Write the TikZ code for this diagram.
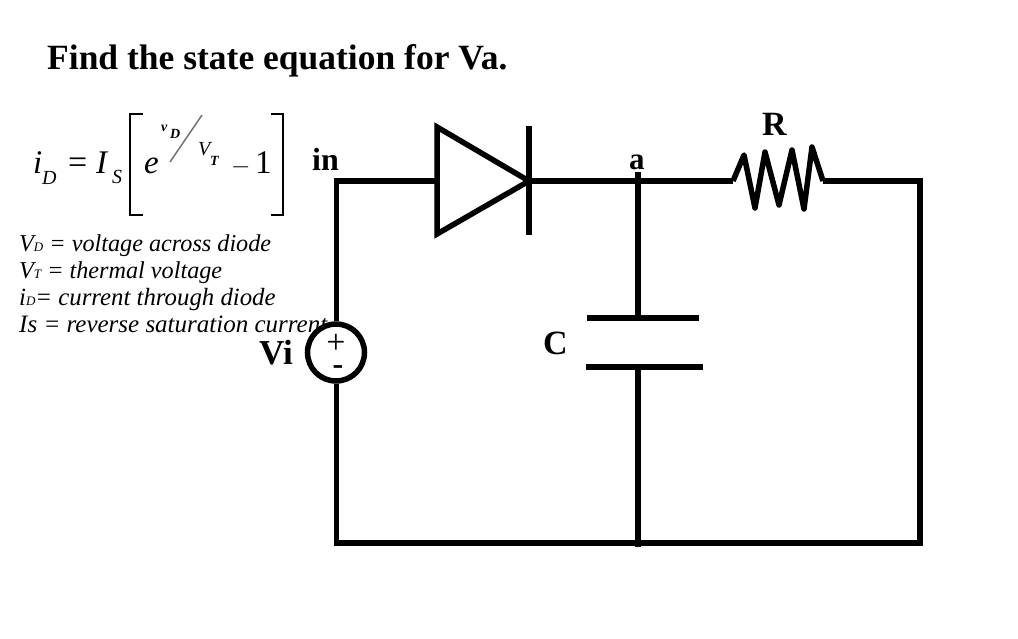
\documentclass[tikz,border=0pt]{standalone}
\usepackage{fontspec}
\setmainfont{Liberation Serif}
\tikzset{
  wire/.style={line width=5.5pt,line cap=butt,line join=miter,black},
  lbl/.style={inner sep=0pt,anchor=base west,text=black},
  bold/.style={lbl,font=\bfseries\fontsize{35.5}{35.5}\selectfont},
  note/.style={lbl,font=\itshape\fontsize{24.2}{24.2}\selectfont},
  eq/.style={lbl,font=\itshape\fontsize{33}{33}\selectfont},
  eqsub/.style={lbl,font=\itshape\fontsize{20}{20}\selectfont},
  tiny/.style={lbl,font=\bfseries\itshape\fontsize{14}{14}\selectfont},
  brk/.style={line width=1.6pt,black}
}
\begin{document}
\begin{tikzpicture}[x=1pt,y=-1pt]
\useasboundingbox (0,0) rectangle (1018,638);
\fill[white] (0,0) rectangle (1018,638);
% title
\node[bold] (title) at (47,69) {Find the state equation for Va.};
% equation
\node[eq] (iD) at (33,173) {i};
\node[eqsub] (iDs) at (42,184) {D};
\node[lbl,font=\fontsize{34}{34}\selectfont] (eqs) at (68,173) {=};
\node[eq] (Is) at (96,173) {I};
\node[eqsub] (Iss) at (112,183) {S};
\node[eq] (e) at (144,173) {e};
\node[tiny] (vd) at (161,131) {v};
\node[tiny] (vds) at (170,138) {D};
\node[lbl,font=\itshape\fontsize{20}{20}\selectfont] (vt) at (198,155) {V};
\node[tiny] (vts) at (210,165) {T};
\coordinate (sl1) at (170,162);
\coordinate (sl2) at (202,115);
\draw[line width=1.5pt,gray!90!black] (sl1) -- (sl2);
\node[lbl,font=\fontsize{30}{30}\selectfont] (m1) at (231,173) {$-$};
\node[lbl,font=\fontsize{33}{33}\selectfont] (one) at (255,173) {1};
\coordinate (bl1) at (143,114); \coordinate (bl2) at (130,114);
\coordinate (bl3) at (130,215); \coordinate (bl4) at (143,215);
\draw[brk] (bl1) -- (bl2) -- (bl3) -- (bl4);
\coordinate (br1) at (271,114); \coordinate (br2) at (283,114);
\coordinate (br3) at (283,215); \coordinate (br4) at (271,215);
\draw[brk] (br1) -- (br2) -- (br3) -- (br4);
% notes
\node[note] (n1) at (19,251) {V{\fontsize{13}{13}\selectfont D} = voltage across diode};
\node[note] (n2) at (19,278) {V{\fontsize{13}{13}\selectfont T} = thermal voltage};
\node[lbl,font=\itshape\fontsize{24.8}{24.8}\selectfont] (n3) at (19,305) {i{\fontsize{13}{13}\selectfont D}= current through diode};
\node[lbl,font=\itshape\fontsize{25}{25}\selectfont] (n4) at (19,332) {Is = reverse saturation current};
% circuit labels
\node[lbl,font=\bfseries\fontsize{32}{32}\selectfont] (in) at (312,170) {in};
\node[lbl,font=\bfseries\fontsize{31}{31}\selectfont] (a) at (629,169) {a};
\node[lbl,font=\bfseries\fontsize{34}{34}\selectfont] (R) at (762,135) {R};
\node[lbl,font=\bfseries\fontsize{34}{34}\selectfont] (C) at (543,354) {C};
\node[lbl,font=\bfseries\fontsize{35}{35}\selectfont] (Vi) at (259,364) {Vi};
% circuit nodes
\coordinate (TL) at (336.5,181);
\coordinate (TR) at (920,181);
\coordinate (BR) at (920,543);
\coordinate (BL) at (336.5,543);
\coordinate (Jtop) at (638,172);
\coordinate (Jbot) at (638,547);
\coordinate (DA) at (437,181);
\coordinate (DK) at (529,181);
\coordinate (DA1) at (437,127);
\coordinate (DA2) at (437,234);
\coordinate (DB1) at (529,126);
\coordinate (DB2) at (529,235);
\coordinate (C1) at (638,318);
\coordinate (C2) at (638,367);
\coordinate (C1l) at (587,318);
\coordinate (C1r) at (699,318);
\coordinate (C2l) at (586,367);
\coordinate (C2r) at (703,367);
\coordinate (R0) at (733,181);
\coordinate (R1) at (744,155);
\coordinate (R2) at (755,208);
\coordinate (R3) at (765,152);
\coordinate (R4) at (779,205);
\coordinate (R5) at (792,150);
\coordinate (R6) at (804,209);
\coordinate (R7) at (812,147);
\coordinate (R8) at (823,181);
\node[circle,draw=black,fill=white,line width=5.5pt,minimum size=57pt,inner sep=0pt] (V) at (336,352.5) {};
\node[lbl,anchor=center,font=\fontsize{34}{34}\selectfont] (plus) at (336,344) {+};
\node[lbl,anchor=center,font=\bfseries\fontsize{32}{32}\selectfont] (minus) at (338,370) {-};
% wires
\draw[wire] (V.north -| TL) -- (TL) -- (DA);
\draw[wire] (V.south -| BL) -- (BL) -- (BR) -- (TR) -- (R8);
\draw[wire] (DK) -- (R0);
\draw[wire,line join=round] (R0) -- (R1) -- (R2) -- (R3) -- (R4) -- (R5) -- (R6) -- (R7) -- (R8);
\draw[wire] (DA1) -- (DA2) -- (DK) -- cycle;
\draw[wire] (DB1) -- (DB2);
\draw[wire] (Jtop) -- (C1);
\draw[wire] (C2) -- (Jbot);
\draw[wire] (C1l) -- (C1r);
\draw[wire] (C2l) -- (C2r);
\end{tikzpicture}
\end{document}
